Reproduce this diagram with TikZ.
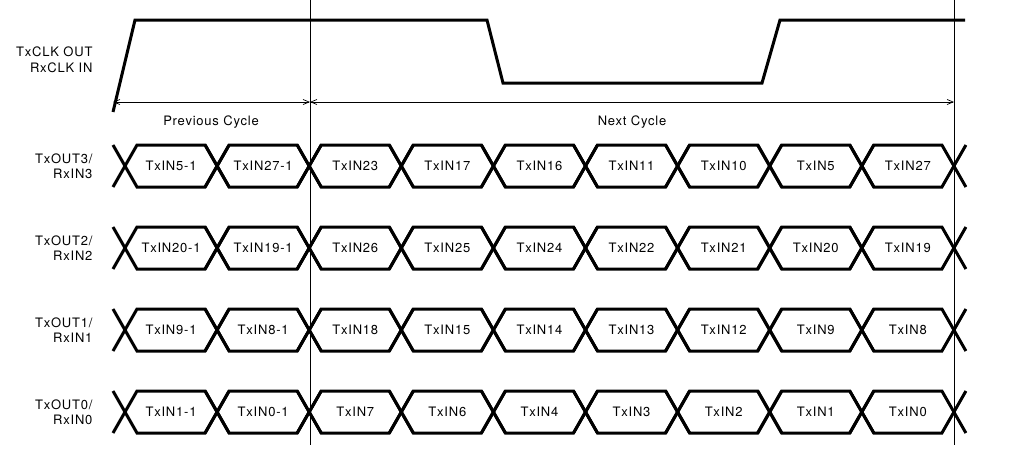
\documentclass[tikz,border=0pt]{standalone}
\usepackage{fontspec}
\setmainfont{TeX Gyre Heros}[LetterSpace=6]
\usetikzlibrary{arrows.meta}
\begin{document}
\begin{tikzpicture}[x=1pt,y=-1pt,
  sig/.style={line width=3pt,line join=miter},
  lbl/.style={font=\fontsize{13}{15.5}\selectfont},
  side/.style={lbl,align=right,anchor=east},
  cell/.style={lbl,inner sep=0pt},
  dim/.style={line width=0.7pt,{Straight Barb[length=6pt,width=5pt]}-{Straight Barb[length=6pt,width=5pt]}}]
\useasboundingbox (0,0) rectangle (1014,456);
% vertical reference lines
\coordinate (v1t) at (310,0); \coordinate (v1b) at (310,445);
\coordinate (v2t) at (954,0); \coordinate (v2b) at (954,445);
\draw[line width=0.9pt] (v1t) -- (v1b);
\draw[line width=0.9pt] (v2t) -- (v2b);
% clock
\node[side] (clk) at (96,60) {TxCLK OUT\\RxCLK IN};
\draw[sig] (113,112) -- (135,20) -- (487,20) -- (503,83) -- (762,83) -- (780,20) -- (965,20);
% cycle arrows
\coordinate (a0) at (113,102); \coordinate (a1) at (310,102); \coordinate (a2) at (954,102);
\draw[dim] (a0) -- (a1);
\draw[dim] (a1) -- (a2);
\node[lbl] (prev) at (211,122) {Previous Cycle};
\node[lbl] (next) at (632,122) {Next Cycle};
% data rows
\foreach \y/\n/\cells in {
  166/3/{TxIN5-1,TxIN27-1,TxIN23,TxIN17,TxIN16,TxIN11,TxIN10,TxIN5,TxIN27},
  248/2/{TxIN20-1,TxIN19-1,TxIN26,TxIN25,TxIN24,TxIN22,TxIN21,TxIN20,TxIN19},
  330/1/{TxIN9-1,TxIN8-1,TxIN18,TxIN15,TxIN14,TxIN13,TxIN12,TxIN9,TxIN8},
  412/0/{TxIN1-1,TxIN0-1,TxIN7,TxIN6,TxIN4,TxIN3,TxIN2,TxIN1,TxIN0}}{
  \node[side] (r\n) at (96,\y) {TxOUT\n/\\RxIN\n};
  \foreach \c [count=\i from 0] in \cells {
    \pgfmathsetmacro{\xa}{125+92.1*\i}
    \pgfmathsetmacro{\xb}{125+92.1*(\i+1)}
    \pgfmathsetmacro{\xm}{(\xa+\xb)/2}
    \draw[sig] (\xa-12,\y-21) -- (\xa+12,\y+21) -- (\xb-12,\y+21) -- (\xb+12,\y-21);
    \draw[sig] (\xa-12,\y+21) -- (\xa+12,\y-21) -- (\xb-12,\y-21) -- (\xb+12,\y+21);
    \node[cell] (c\n-\i) at (\xm,\y) {\c};
  }
}
\end{tikzpicture}
\end{document}
